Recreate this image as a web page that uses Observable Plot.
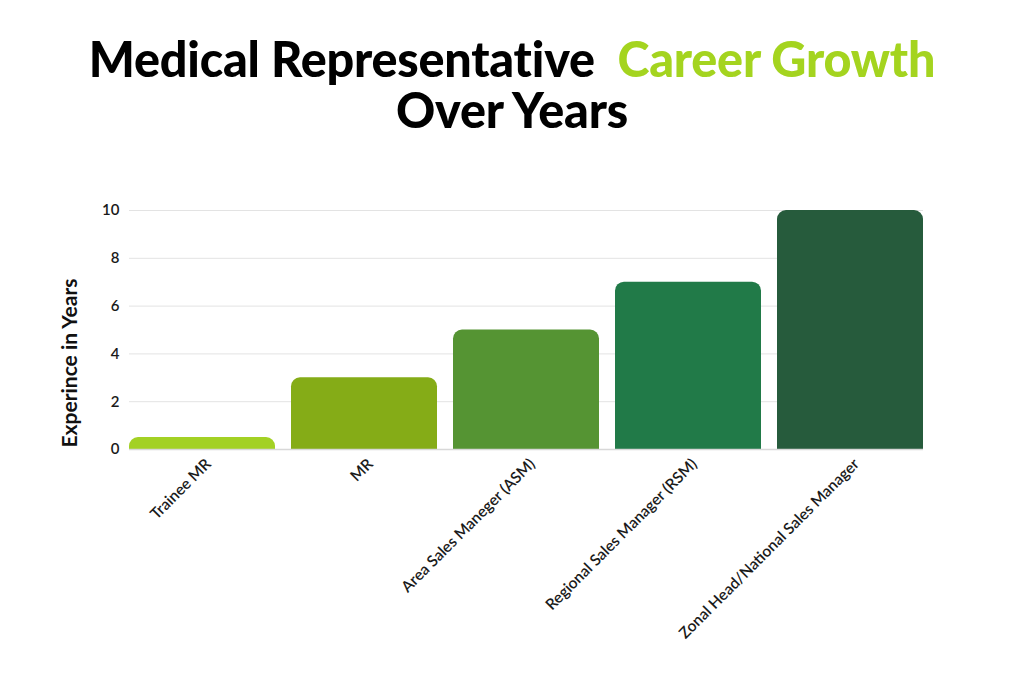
<!DOCTYPE html>
<html>
<head>
<meta charset="utf-8">
<script src="https://cdn.jsdelivr.net/npm/d3@7"></script>
<script src="https://cdn.jsdelivr.net/npm/@observablehq/plot@0.6"></script>
<style>
  html, body { margin: 0; padding: 0; background: #fff; }
  #wrap { position: relative; width: 1024px; height: 683px; overflow: hidden; }
  .tl {
    position: absolute; left: 0; width: 1024px; text-align: center;
    font-family: Lato, sans-serif; font-weight: 900; font-size: 48.5px; line-height: 46px;
    color: #000; letter-spacing: -0.2px; white-space: nowrap;
  }
  #t1 { top: 35px; }
  #t2 { top: 86px; }
  .hl { color: #a4d41f; }
  #chart { position: absolute; left: 0; top: 0; }
</style>
</head>
<body>
<div id="wrap">
  <div id="chart"></div>
  <div id="t1" class="tl">Medical Representative&nbsp; <span class="hl">Career Growth</span></div>
  <div id="t2" class="tl">Over Years</div>
</div>
<script>
const roles = ["Trainee MR", "MR", "Area Sales Maneger (ASM)", "Regional Sales Manager (RSM)", "Zonal Head/National Sales Manager"];
const years = [0.5, 3, 5, 7, 10];
const colors = ["#a3d124", "#85ac17", "#559433", "#217a48", "#265b3c"];
const yTicks = [0, 2, 4, 6, 8, 10];
const yLabel = "Experince in Years";

const data = roles.map((r, i) => ({role: r, years: years[i], color: colors[i]}));

const chart = Plot.plot({
  width: 1024,
  height: 683,
  marginTop: 210,
  marginBottom: 234,
  marginLeft: 129,
  marginRight: 101,
  style: {fontFamily: "Lato, sans-serif", background: "transparent"},
  x: {domain: roles, paddingInner: 0.1, paddingOuter: 0, label: null},
  y: {domain: [0, 10], label: null},
  marks: [
    Plot.gridY(yTicks, {stroke: "#e3e3e3", strokeOpacity: 1, strokeWidth: 1}),
    Plot.barY(data, {x: "role", y: "years", fill: "color", rx1y1: 9, rx2y1: 9, rx1y2: 0, rx2y2: 0, insetTop: 0}),
    Plot.ruleY([0], {stroke: "#d8d8d8", strokeWidth: 1.5}),
    Plot.axisY(yTicks, {tickSize: 0, tickPadding: 10, fontSize: 15, fontWeight: 600, fill: "#1a1a1a", label: null}),
    Plot.axisX({tickSize: 0, tickPadding: 8, tickRotate: -45, fontSize: 15.5, fontWeight: 600, fill: "#1a1a1a", label: null, dx: 6, dy: 4}),
    Plot.text([yLabel], {frameAnchor: "bottom-left", rotate: -90, textAnchor: "start", lineAnchor: "middle", dx: -59, dy: -2, fontSize: 21, fontWeight: 700, fill: "#111", text: d => d})
  ]
});
document.getElementById("chart").appendChild(chart);
</script>
</body>
</html>
